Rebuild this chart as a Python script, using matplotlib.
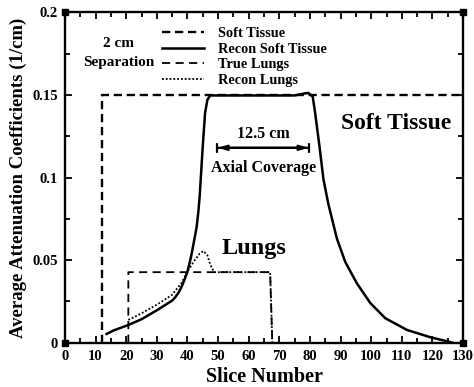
import matplotlib
matplotlib.use("Agg")
import matplotlib.pyplot as plt
from matplotlib.ticker import MultipleLocator

# ---- data ----
soft_x = [12, 12, 130]
soft_y = [0.0, 0.15, 0.15]

recon_soft_x = [13.6, 16, 20.7, 25, 30, 35, 36, 37, 38, 39, 40, 40.8, 41.5, 42.2, 43, 43.6,
                44.0, 44.5, 45.0, 45.75, 46.5, 47.4,
                60, 75, 78.5, 79.5, 80.9, 81.7, 83.1, 84.4, 86, 88.8, 91.5, 95.3, 99.7,
                104.6, 111.7, 119.3, 125.3, 126.5]
recon_soft_y = [0.0053, 0.0075, 0.0107, 0.0142, 0.0196, 0.0255, 0.0275, 0.030, 0.0335, 0.038,
                0.043, 0.049, 0.055, 0.062, 0.070, 0.080,
                0.089, 0.104, 0.119, 0.139, 0.147, 0.1497,
                0.1497, 0.1497, 0.151, 0.1512, 0.149, 0.139, 0.119, 0.099, 0.084, 0.063, 0.049,
                0.036, 0.024, 0.0148, 0.0077, 0.0033, 0.0006, 0.0]

true_lung_x = [20.7, 20.7, 67, 67.7]
true_lung_y = [0.0, 0.0427, 0.0427, 0.0]

recon_lung_x = [20.7, 25, 30, 35, 38, 40, 42, 44, 45.2, 46.5, 47.5, 48.7, 67, 67.7]
recon_lung_y = [0.0138, 0.0178, 0.023, 0.029, 0.036, 0.043, 0.049, 0.054, 0.0555, 0.053,
                0.047, 0.0427, 0.0427, 0.0]

labels = ["Soft Tissue", "Recon Soft Tissue", "True Lungs", "Recon Lungs"]
xticks = list(range(0, 131, 10))
yticks = [0, 0.05, 0.1, 0.15, 0.2]
ytick_labels = ["0", "0.05", "0.1", "0.15", "0.2"]

# ---- style ----
plt.rcParams['font.family'] = ['Liberation Serif', 'DejaVu Serif']
plt.rcParams['font.weight'] = 'bold'

fig = plt.figure(figsize=(4.74, 3.87), dpi=100)
ax = fig.add_axes([0.137, 0.1145, 0.84, 0.8535])

ax.plot(soft_x, soft_y, color='black', lw=1.7, dashes=(3.5, 2), label=labels[0])
ax.plot(recon_soft_x, recon_soft_y, color='black', lw=1.8, label=labels[1])
ax.plot(true_lung_x, true_lung_y, color='black', lw=1.3, dashes=(4.5, 3), label=labels[2])
ax.plot(recon_lung_x, recon_lung_y, color='black', lw=1.3, dashes=(1, 1.1), label=labels[3])

# corner squares
ax.plot([0, 0, 130, 130], [0, 0.2, 0.2, 0], 's', color='black', ms=5, clip_on=False, zorder=5)

ax.set_xlim(0, 130)
ax.set_ylim(0, 0.2)
ax.set_xticks(xticks)
ax.set_xticklabels([str(t) for t in xticks])
ax.set_yticks(yticks)
ax.set_yticklabels(ytick_labels)
ax.xaxis.set_minor_locator(MultipleLocator(5))
ax.yaxis.set_minor_locator(MultipleLocator(0.025))
ax.tick_params(which='both', direction='in', top=True, right=True, width=1.3,
               labelsize=10.5, pad=5, labelright=False, labeltop=False)
ax.tick_params(which='major', length=5)
ax.tick_params(which='minor', length=3.5)
for lab in ax.get_xticklabels() + ax.get_yticklabels():
    lab.set_fontweight('bold')
for s in ax.spines.values():
    s.set_linewidth(1.7)

ax.set_xlabel("Slice Number", fontsize=14.5, fontweight='bold', labelpad=3)
ax.set_ylabel("Average Attenuation Coefficients (1/cm)", fontsize=13.5, fontweight='bold', labelpad=4)

leg = ax.legend(loc='upper left', bbox_to_anchor=(0.342, 0.93), bbox_transform=fig.transFigure,
                frameon=False, fontsize=10.3, handlelength=2.9, handletextpad=1.0,
                labelspacing=0.18, borderpad=0, borderaxespad=0)
for t in leg.get_texts():
    t.set_fontweight('bold')

ax.text(17.5, 0.181, "2 cm", ha='center', va='center', fontsize=11, fontweight='bold')
ax.text(17.5, 0.1695, "Separation", ha='center', va='center', fontsize=11, fontweight='bold')

ax.annotate("", xy=(49.7, 0.118), xytext=(79.7, 0.118),
            arrowprops=dict(arrowstyle='|-|,widthA=0.3,widthB=0.3', lw=1.6, color='black', shrinkA=0, shrinkB=0))
ax.annotate("", xy=(49.9, 0.118), xytext=(79.5, 0.118),
            arrowprops=dict(arrowstyle='<|-|>,head_length=0.5,head_width=0.15', lw=1.6, color='black', shrinkA=0, shrinkB=0))
ax.text(64.7, 0.1265, "12.5 cm", ha='center', va='center', fontsize=11.5, fontweight='bold')
ax.text(64.7, 0.106, "Axial Coverage", ha='center', va='center', fontsize=11.5, fontweight='bold')

ax.text(108, 0.133, "Soft Tissue", ha='center', va='center', fontsize=17, fontweight='bold')
ax.text(61.8, 0.057, "Lungs", ha='center', va='center', fontsize=17.5, fontweight='bold')

fig.savefig("out.png", dpi=100)
